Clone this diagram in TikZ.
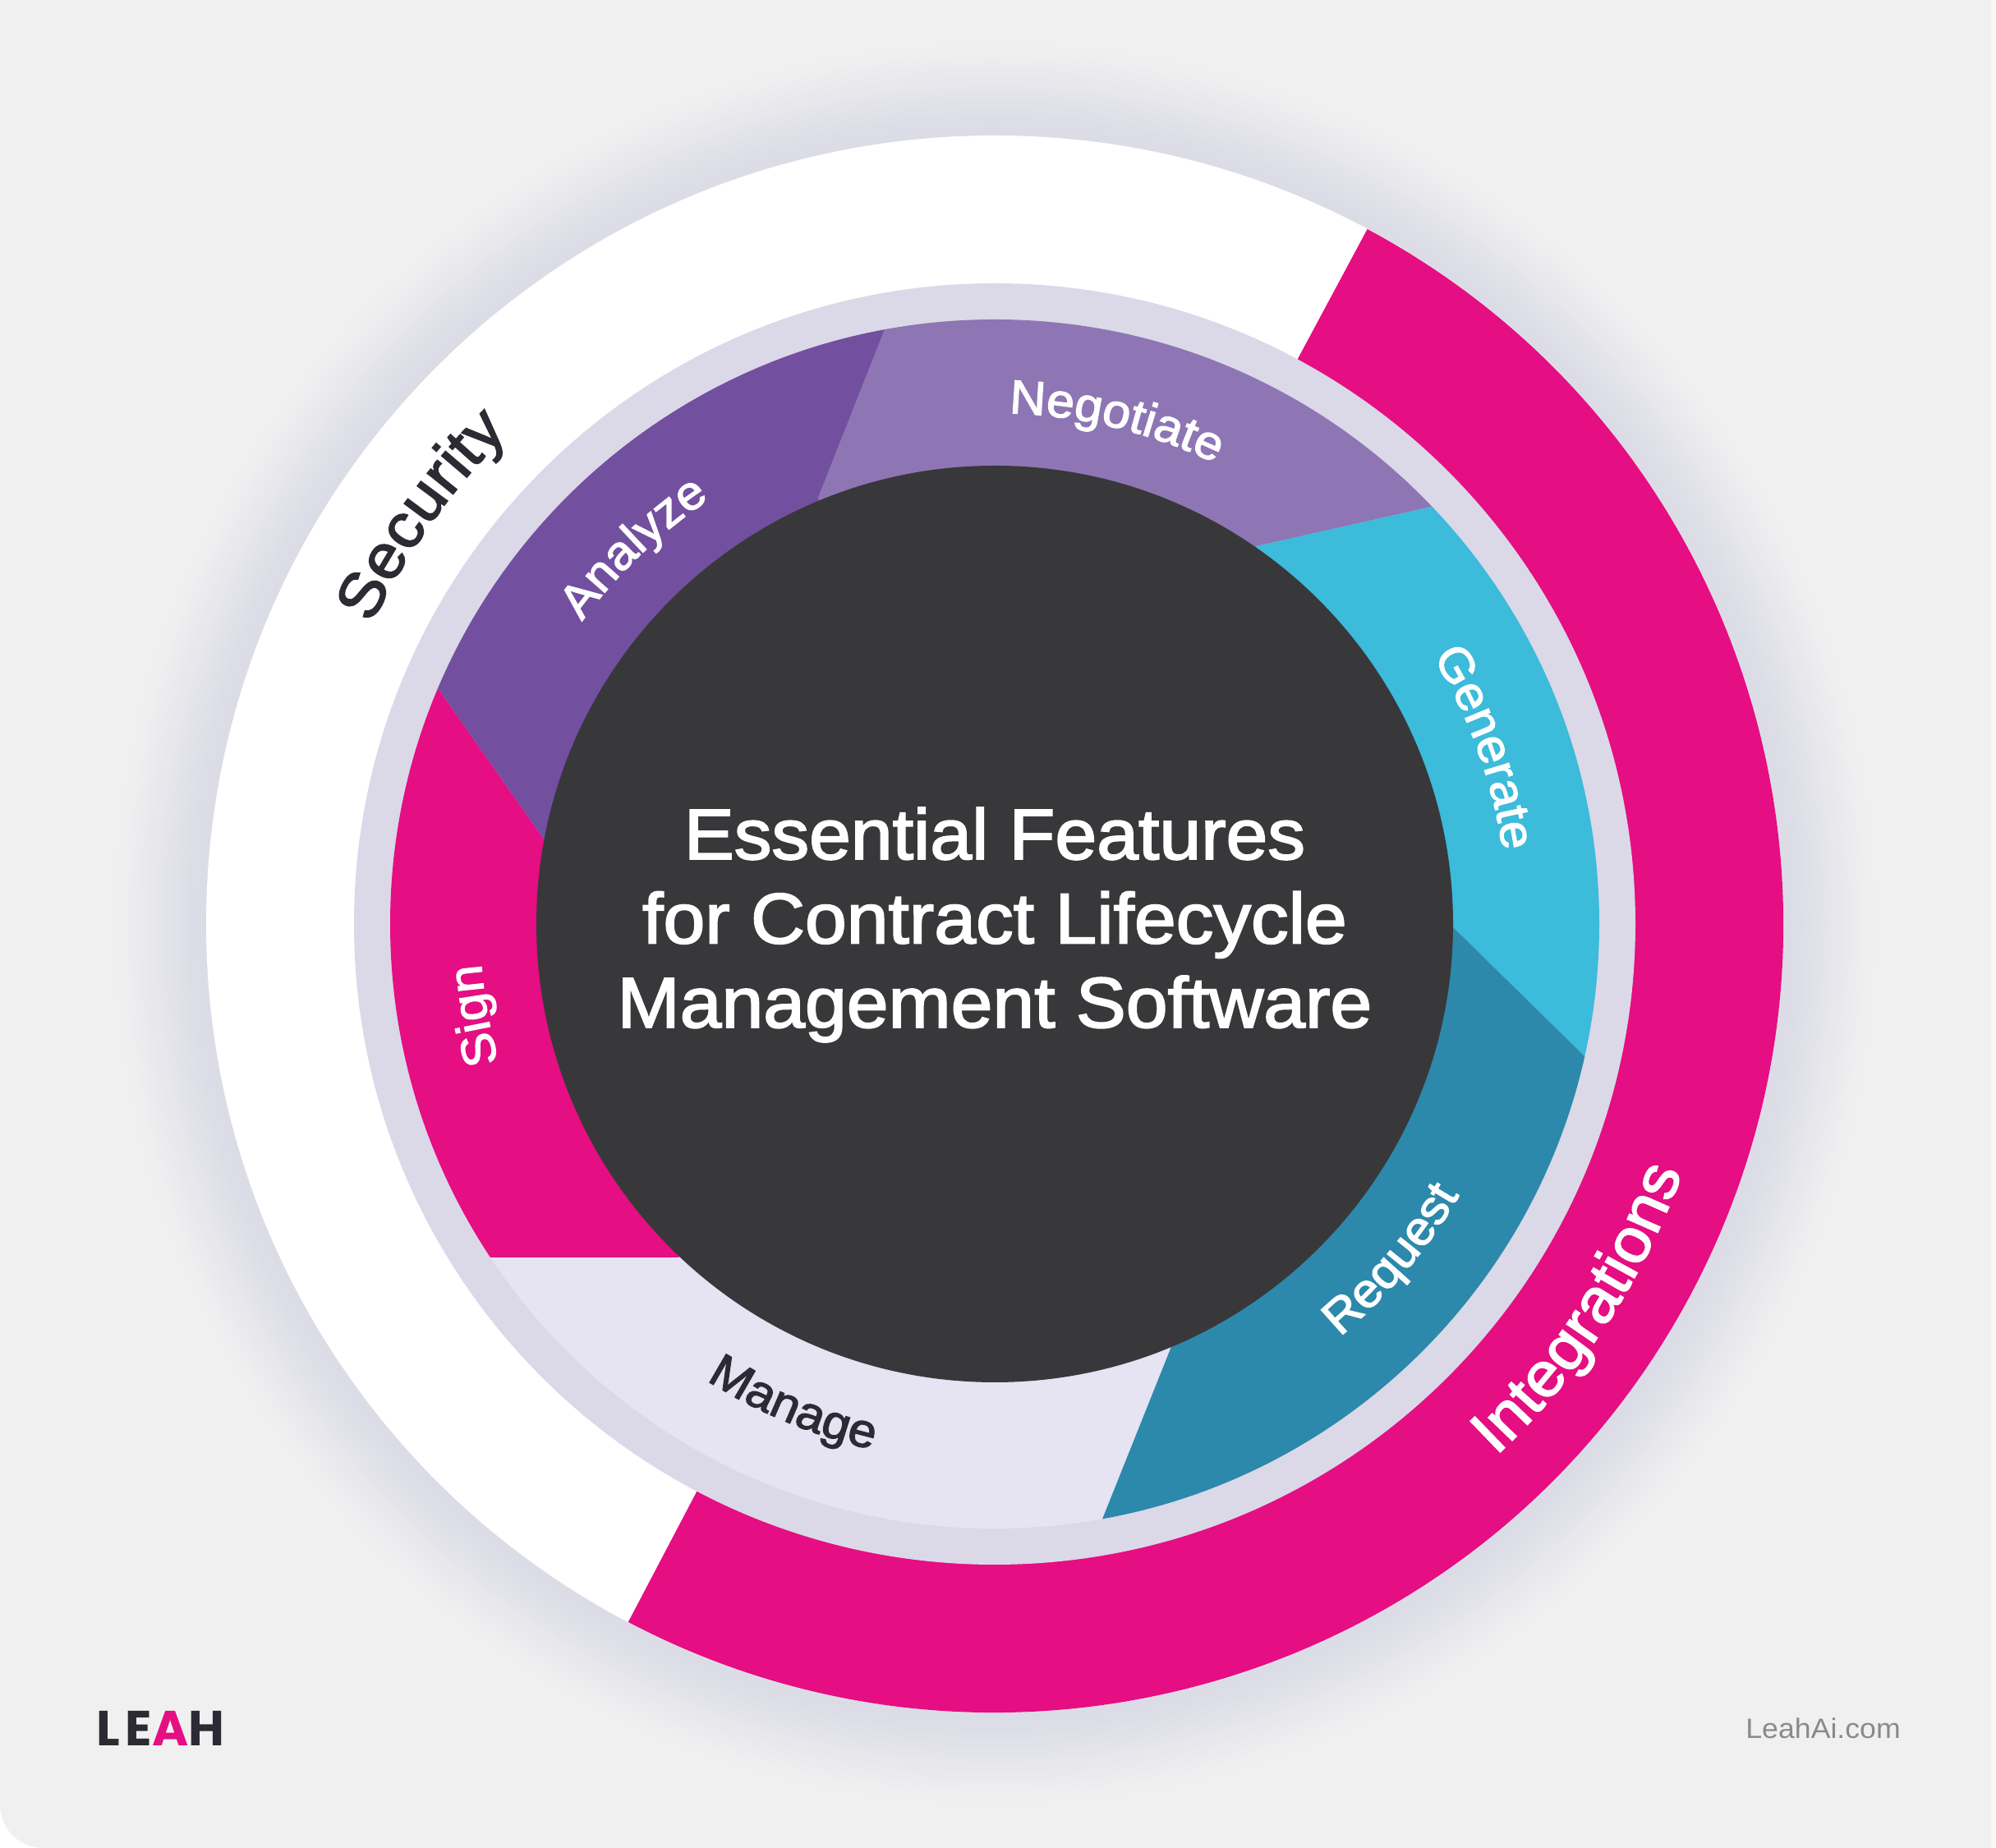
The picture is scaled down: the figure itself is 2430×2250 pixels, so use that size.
\documentclass[tikz,border=0pt]{standalone}
\usepackage{fontspec}
\usetikzlibrary{calc,decorations.text}
\newfontfamily\basef[FakeStretch=1.05]{Liberation Sans}
\newfontfamily\semif[FakeStretch=1.05,FakeBold=2.2]{Liberation Sans}
\newfontfamily\logof[LetterSpace=11]{Poppins}
\definecolor{bgc}{HTML}{F0F0F1}
\definecolor{strip}{HTML}{FDF5F6}
\definecolor{glowc}{HTML}{DCDCE6}
\definecolor{pinkc}{HTML}{E50E82}
\definecolor{ringc}{HTML}{DBD8E8}
\definecolor{analyzec}{HTML}{734FA0}
\definecolor{negotc}{HTML}{8E76B4}
\definecolor{genc}{HTML}{3CBBDB}
\definecolor{reqc}{HTML}{2C89AB}
\definecolor{manc}{HTML}{E6E3F2}
\definecolor{corec}{HTML}{38383B}
\definecolor{darkc}{HTML}{2B2B33}
\definecolor{greyc}{HTML}{8A8A8A}
\newcommand\px[1]{\fontsize{\fpeval{#1*0.569}}{\fpeval{#1*0.67}}\selectfont}
\newcommand\ringfont{\semif\px{76}}
\newcommand\segfont{\semif\px{58}}
% radius, mid angle, direction (1 = clockwise reading, -1 = counter-clockwise), text with format
\newcommand\ringtext[4]{%
  \path[decorate,decoration={text along path,text align=center,text={#4}}]
    ({#2+#3*55}:#1) arc[start angle={#2+#3*55},end angle={#2-#3*55},radius=#1];}
\begin{document}
\begin{tikzpicture}[x=0.02cm,y=0.02cm]
\useasboundingbox (0,0) rectangle (2430,2250);
\fill[white] (0,0) rectangle (2430,2250);
\fill[strip] (2424,0) rectangle (2430,2250);
\fill[bgc] (2424,0) -- (2424,2250) -- (0,2250) [rounded corners=30] -- (0,0) [sharp corners] -- (2424,0) -- cycle;
\begin{scope}[shift={(1211,1125)}]
  % soft glow around the ring
  \foreach \i in {0,...,25}{
    \pgfmathsetmacro\glowt{\i/25}
    \pgfmathsetmacro\glowpct{100*(3*\glowt*\glowt-2*\glowt*\glowt*\glowt)}
    \pgfmathsetmacro\glowr{1085-5*\i}
    \fill[glowc!\glowpct!bgc] (0,0) circle[radius=\glowr];
  }
  % outer band
  \fill[white] (0,0) circle[radius=960];
  \fill[pinkc] (0,0) -- (61.8:960) arc[start angle=61.8,end angle=-117.7,radius=960] -- cycle;
  \fill[ringc] (0,0) circle[radius=780];
  % segment boundaries
  \coordinate (p1) at (-134,724);  \coordinate (q1) at (-215,519);
  \coordinate (p2) at (532,508);   \coordinate (q2) at (319,460);
  \coordinate (p3) at (718,-161);  \coordinate (q3) at (557,-3);
  \coordinate (p4) at (131,-724);  \coordinate (q4) at (215,-514);
  \coordinate (p5) at (-614,-406); \coordinate (q5) at (-385,-406);
  \coordinate (p6) at (-678,287);  \coordinate (q6) at (-548,102);
  \begin{scope}
    \clip (0,0) circle[radius=736];
    \fill[negotc]   (0,0) -- (q1) -- ($(q1)!2!(p1)$) -- (45:1400) -- ($(q2)!2!(p2)$) -- (q2) -- cycle;
    \fill[genc]     (0,0) -- (q2) -- ($(q2)!2!(p2)$) -- (15:1400) -- ($(q3)!2!(p3)$) -- (q3) -- cycle;
    \fill[reqc]     (0,0) -- (q3) -- ($(q3)!2!(p3)$) -- (-45:1400) -- ($(q4)!2!(p4)$) -- (q4) -- cycle;
    \fill[manc]     (0,0) -- (q4) -- ($(q4)!2!(p4)$) -- (-110:1400) -- ($(q5)!2!(p5)$) -- (q5) -- cycle;
    \fill[pinkc]    (0,0) -- (q5) -- ($(q5)!2!(p5)$) -- (180:1400) -- ($(q6)!2!(p6)$) -- (q6) -- cycle;
    \fill[analyzec] (0,0) -- (q6) -- ($(q6)!2!(p6)$) -- (130:1400) -- ($(q1)!2!(p1)$) -- (q1) -- cycle;
  \end{scope}
  \node[circle,fill=corec,minimum size=1116*0.02cm,inner sep=0pt] (core) at (0,0) {};
  \node[align=center,text=white,inner sep=0pt,font=\semif\fontsize{49.5}{58.3}\selectfont] (title) at (0,-1) {Essential Features\\for Contract Lifecycle\\Management Software};
  % curved labels
  \ringtext{842}{144.5}{1}{|\ringfont\color{darkc}|Security}
  \ringtext{890}{-33.3}{-1}{|\ringfont\color{white}|Integrations}
  \ringtext{622}{76.4}{1}{|\segfont\color{white}|Negotiate}
  \ringtext{623}{133.8}{1}{|\segfont\color{white}|Analyze}
  \ringtext{625}{19.8}{1}{|\segfont\color{white}|Generate}
  \ringtext{627}{190}{1}{|\segfont\color{white}|Sign}
  \ringtext{655}{-40.2}{-1}{|\segfont\color{white}|Request}
  \ringtext{657}{-112.7}{-1}{|\segfont\color{darkc}|Manage}
\end{scope}
\node[anchor=base west,inner sep=0pt,font=\logof\bfseries\px{60}] (logo) at (117,124) {\textcolor{darkc}{LE}\textcolor{pinkc}{A}\textcolor{darkc}{H}};
\node[anchor=base west,inner sep=0pt,text=greyc,font=\basef\px{34}] (site) at (2125,133) {LeahAi.com};
\end{tikzpicture}
\end{document}
